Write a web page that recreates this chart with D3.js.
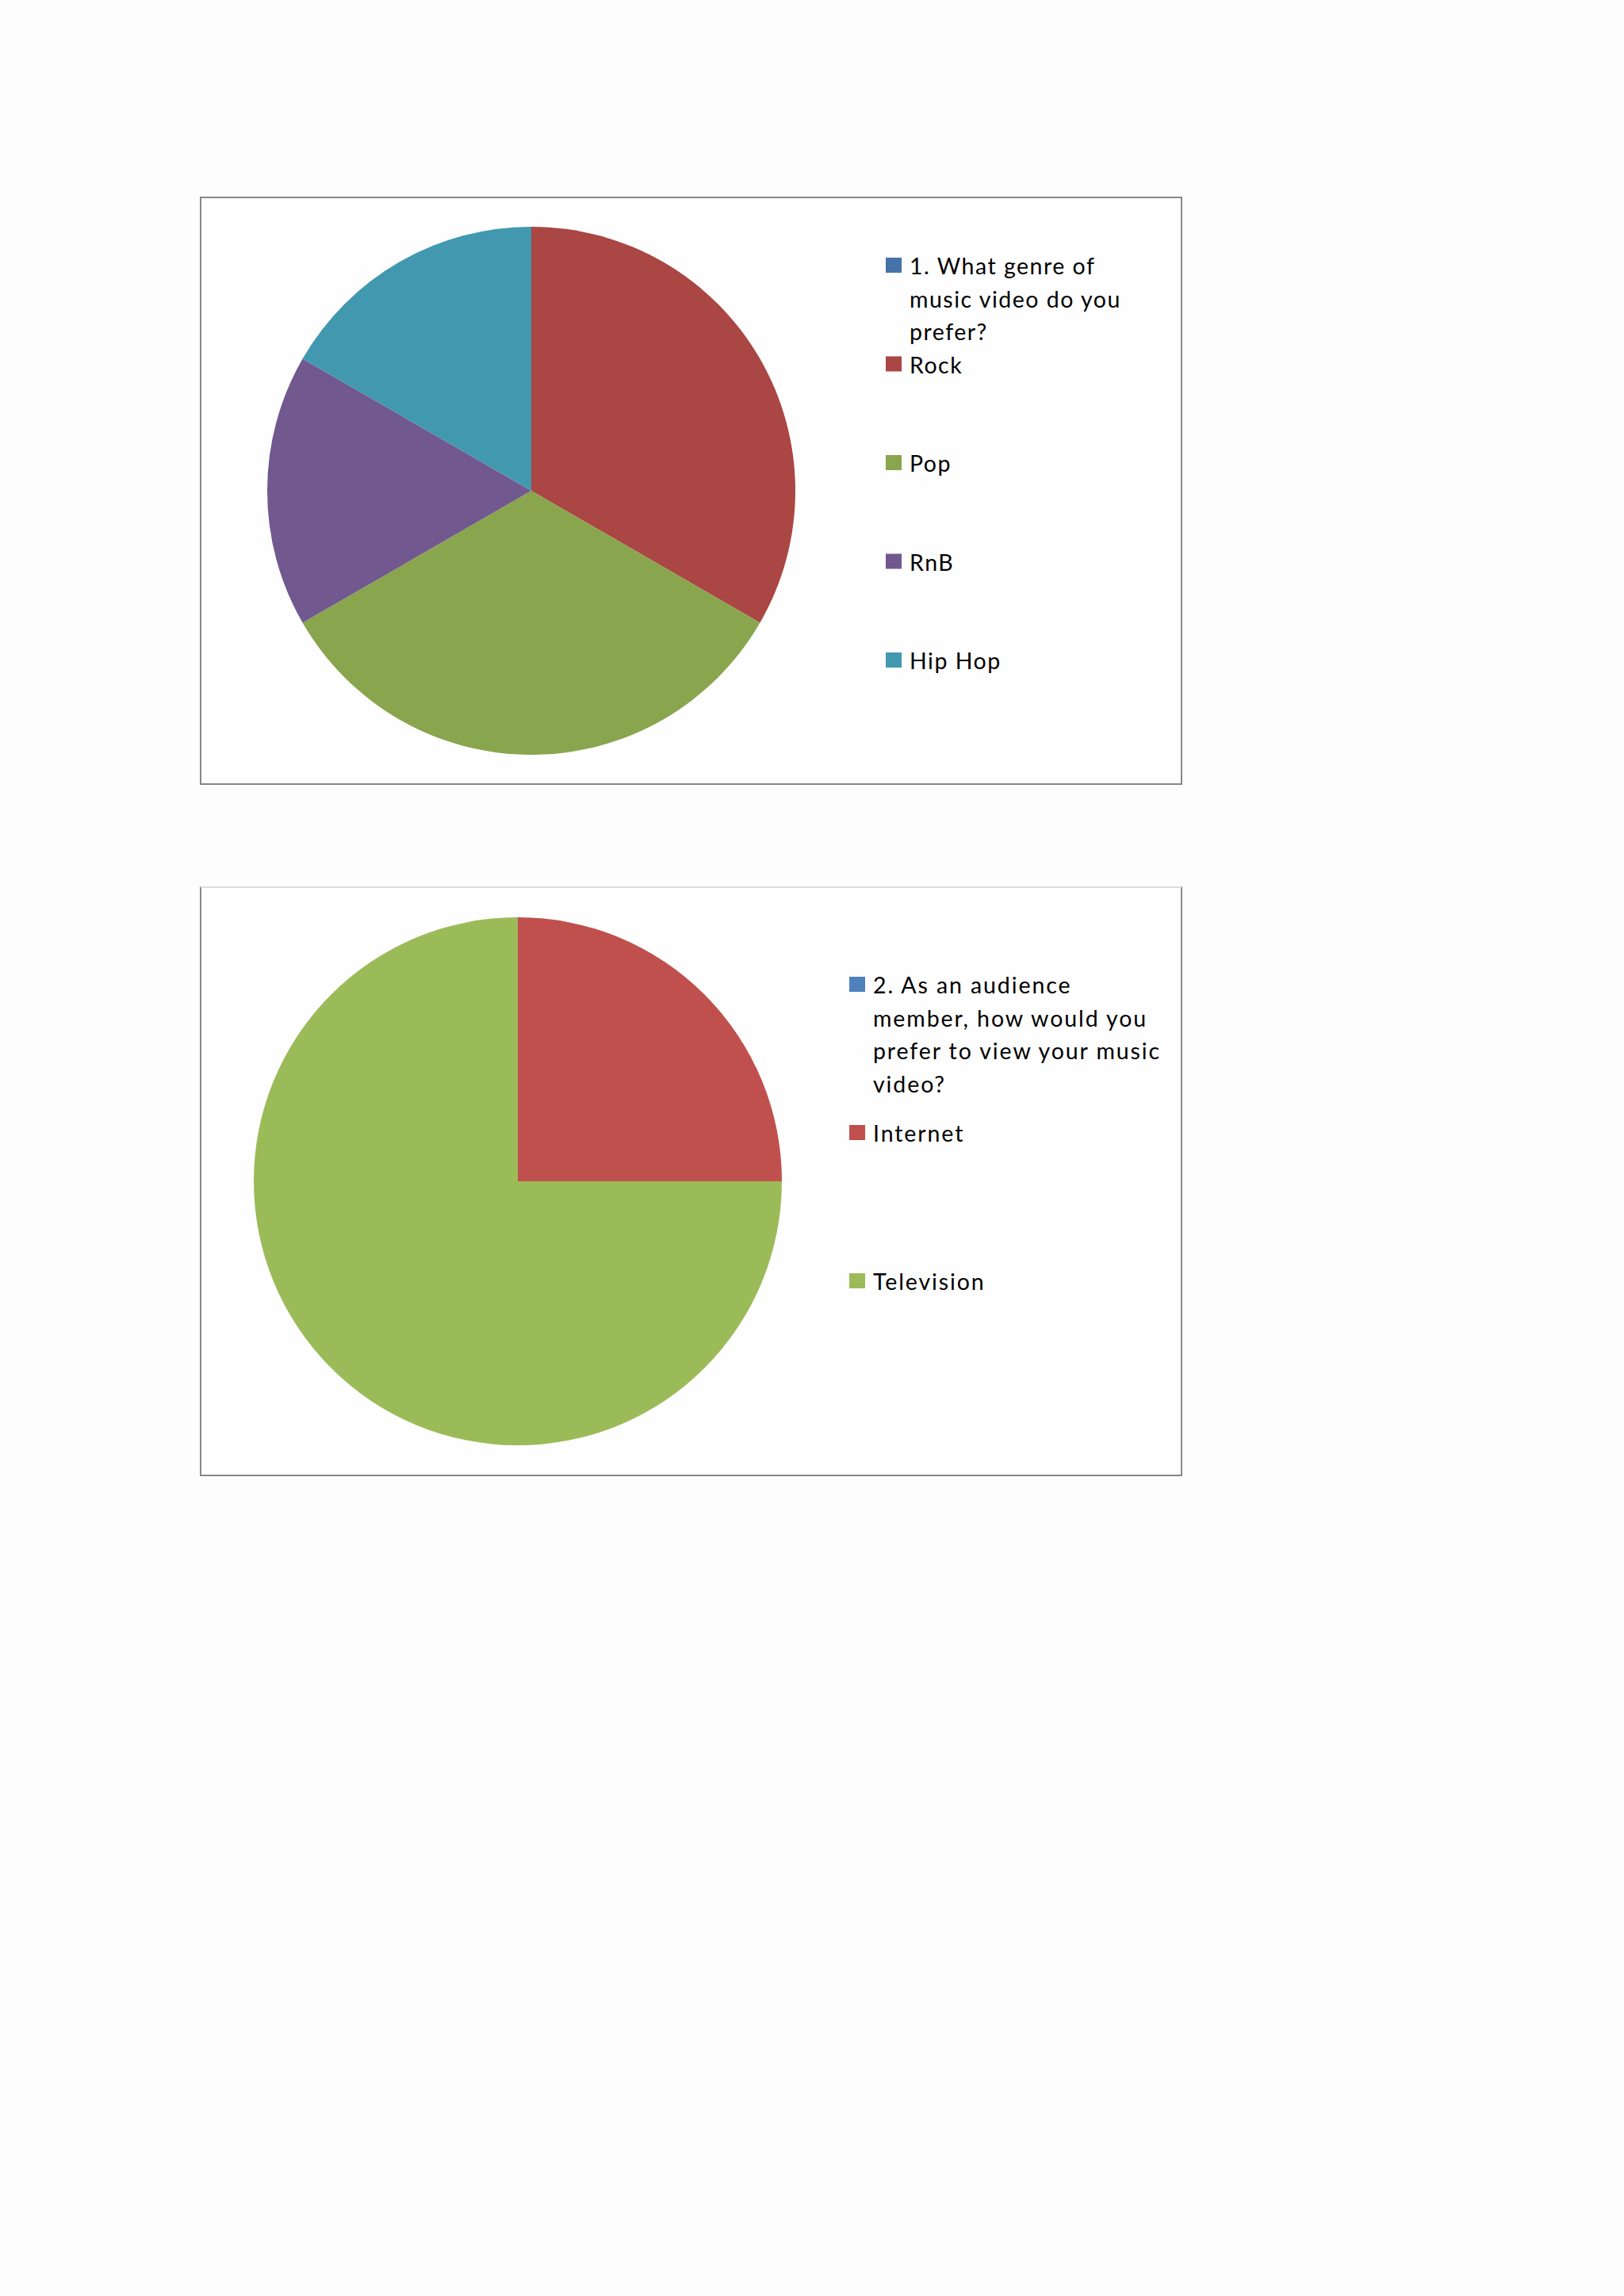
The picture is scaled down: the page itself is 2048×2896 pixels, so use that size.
<!DOCTYPE html>
<html>
<head>
<meta charset="utf-8">
<script src="https://cdn.jsdelivr.net/npm/d3@7"></script>
<style>
  html, body { margin: 0; padding: 0; background: #fdfdfd; }
  .legend text { font-family: Lato, "Open Sans", sans-serif; font-size: 28.5px; fill: #000; }
</style>
</head>
<body>
<script>
// chart 1 data
var genreLabels = ["1. What genre of music video do you prefer?", "Rock", "Pop", "RnB", "Hip Hop"];
var genreValues = [0, 2, 2, 1, 1];
var genreColors = ["#4572a7", "#aa4643", "#89a54e", "#71588f", "#4198af"];

// chart 2 data
var viewLabels = ["2. As an audience member, how would you prefer to view your music video?", "Internet", "Television"];
var viewValues = [0, 1, 3];
var viewColors = ["#4f81bd", "#c0504d", "#9bbb59"];

var W = 2048, H = 2896;

var svg = d3.select('body').append('svg')
    .attr('width', W)
    .attr('height', H);

svg.append('rect').attr('width', W).attr('height', H).attr('fill', '#fdfdfd');

function drawPieChart(opts) {
  var g = svg.append('g');

  // frame
  g.append('rect')
    .attr('x', opts.box[0]).attr('y', opts.box[1])
    .attr('width', opts.box[2]).attr('height', opts.box[3])
    .attr('fill', '#fefefe')
    .attr('stroke', '#878787')
    .attr('stroke-width', 2);
  if (opts.lightTop) {
    g.append('line')
      .attr('x1', opts.box[0]).attr('x2', opts.box[0] + opts.box[2])
      .attr('y1', opts.box[1]).attr('y2', opts.box[1])
      .attr('stroke', '#dcdcdc').attr('stroke-width', 2);
  }

  var pie = d3.pie().sort(null).value(d => d);
  var arc = d3.arc().innerRadius(0).outerRadius(opts.r);
  var color = d3.scaleOrdinal().domain(opts.labels).range(opts.colors);

  var arcs = pie(opts.values).map((a, i) => Object.assign(a, { label: opts.labels[i] }));

  g.append('g')
    .attr('transform', `translate(${opts.cx}, ${opts.cy})`)
    .selectAll('path')
    .data(arcs.filter(d => d.value > 0))
    .join('path')
    .attr('d', arc)
    .attr('fill', d => color(d.label));

  // legend, entries spaced evenly by their first baseline
  var y = d3.scalePoint().domain(opts.labels).range(opts.legendY);
  var leg = g.append('g').attr('class', 'legend');

  var item = leg.selectAll('g')
    .data(opts.labels)
    .join('g')
    .attr('transform', d => `translate(0, ${y(d)})`);

  item.append('rect')
    .attr('x', opts.legendX)
    .attr('y', -21)
    .attr('width', 20)
    .attr('height', 19)
    .attr('fill', d => color(d));

  item.append('text')
    .attr('x', opts.legendX + 30)
    .attr('y', 0)
    .style('letter-spacing', opts.spacing + 'px')
    .each(function (d) {
      var t = d3.select(this);
      var words = d.split(' ');
      var line = [];
      var tspan = t.append('tspan').attr('x', opts.legendX + 30).attr('dy', 0);
      words.forEach(function (w) {
        line.push(w);
        tspan.text(line.join(' '));
        if (tspan.node().getComputedTextLength() > opts.wrap && line.length > 1) {
          line.pop();
          tspan.text(line.join(' '));
          line = [w];
          tspan = t.append('tspan').attr('x', opts.legendX + 30).attr('dy', 41.6).text(w);
        }
      });
    });
}

drawPieChart({
  box: [253, 249, 1237, 740],
  cx: 670, cy: 619, r: 333,
  labels: genreLabels, values: genreValues, colors: genreColors,
  legendX: 1117, legendY: [346, 844], wrap: 290, spacing: 1.5
});

drawPieChart({
  box: [253, 1119, 1237, 742],
  cx: 653, cy: 1490, r: 333,
  labels: viewLabels, values: viewValues, colors: viewColors,
  legendX: 1071, legendY: [1253, 1627], wrap: 370, spacing: 1.9,
  lightTop: true
});
</script>
</body>
</html>
